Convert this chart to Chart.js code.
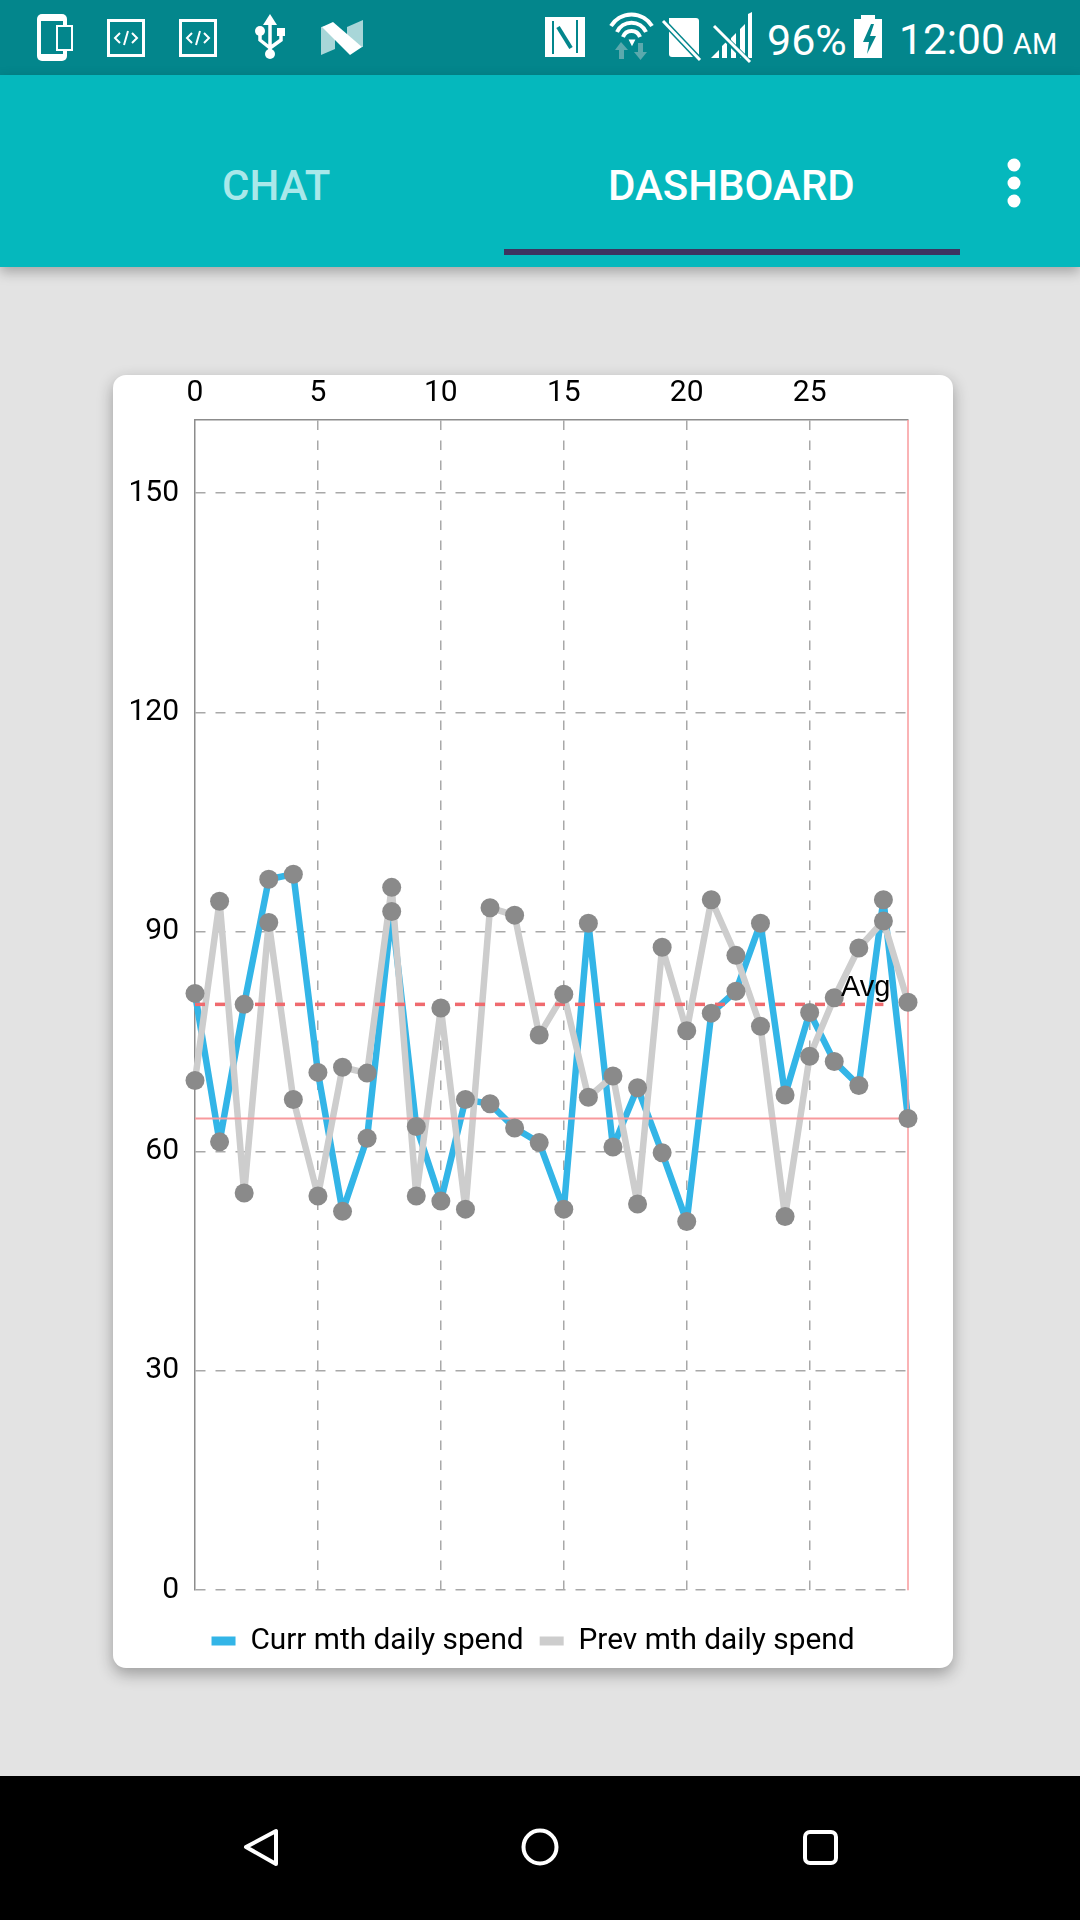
<!DOCTYPE html>
<html>
<head>
<meta charset="utf-8">
<title>Dashboard</title>
<script src="https://cdn.jsdelivr.net/npm/chart.js@4/dist/chart.umd.js"></script>
<style>
    html, body { margin: 0; padding: 0; background: #e3e3e3; }
    body { width: 1080px; height: 1920px; position: relative; overflow: hidden; font-family: Roboto, sans-serif; }
    .abs { position: absolute; white-space: nowrap; line-height: 1; }
    #toolbar { position: absolute; left: 0; top: 75px; width: 1080px; height: 192px; background: #05b8bd; box-shadow: 0 5px 12px rgba(0,0,0,.28); }
    #statusbar { position: absolute; left: 0; top: 0; width: 1080px; height: 75px; background: #03868c; }
    #underline { position: absolute; left: 504px; top: 249px; width: 456px; height: 6px; background: #3d3460; }
    #card { position: absolute; left: 113px; top: 375px; width: 840px; height: 1293px; background: #fff; border-radius: 13px; box-shadow: 0 6px 16px rgba(0,0,0,.32); }
    #myChart { position: absolute; left: 113px; top: 375px; }
    #navbar { position: absolute; left: 0; top: 1776px; width: 1080px; height: 144px; background: #000; }
    svg { position: absolute; left: 0; top: 0; }
</style>
</head>
<body>
<div id="statusbar"></div>
<div id="toolbar"></div>
<div id="underline"></div>
<div class="abs" style="left:222px;top:165px;font-size:42px;font-weight:500;color:#a9e8ea;">CHAT</div>
<div class="abs" style="left:608px;top:165px;font-size:42px;font-weight:500;color:#fff;">DASHBOARD</div>
<div class="abs" style="left:767px;top:19px;font-size:43px;color:#fff;">96%</div>
<div class="abs" style="left:899px;top:19px;font-size:42.5px;color:#fff;">12:00</div>
<div class="abs" style="left:1013px;top:30px;font-size:29px;color:#fff;">AM</div>

<svg width="1080" height="270" fill="none">
    <!-- phone -->
    <rect x="37" y="14" width="30" height="47" rx="5" fill="#fff"/>
    <rect x="41" y="21" width="22" height="33" fill="#03868c"/>
    <rect x="57" y="26" width="15" height="24" fill="#03868c" stroke="#fff" stroke-width="2"/>
    <!-- code boxes -->
    <rect x="108.5" y="20.5" width="35" height="35" stroke="#fff" stroke-width="3"/>
    <path d="M120 33l-5 5 5 5M132 33l5 5-5 5M128 31l-4 14" stroke="#fff" stroke-width="2"/>
    <rect x="180.5" y="20.5" width="35" height="35" stroke="#fff" stroke-width="3"/>
    <path d="M192 33l-5 5 5 5M204 33l5 5-5 5M200 31l-4 14" stroke="#fff" stroke-width="2"/>
    <!-- usb -->
    <path d="M270 22v30M270 48l-10-8v-9M270 48l11-8v-6" stroke="#fff" stroke-width="3.5"/>
    <path d="M270 14l7 11h-14z" fill="#fff"/>
    <circle cx="270" cy="54" r="5" fill="#fff"/>
    <circle cx="260" cy="31" r="5" fill="#fff"/>
    <rect x="277" y="28" width="8" height="8" fill="#fff"/>
    <!-- n logo -->
    <path d="M321 27l14 -2 0 24-14 6z" fill="#a8d6d8"/>
    <path d="M347 27l16-7 0 27-16 1z" fill="#a8d6d8"/>
    <path d="M322 27l11-5 29 25-12 8z" fill="#fff"/>
    <!-- nfc -->
    <rect x="545" y="17" width="40" height="40" fill="#fff"/>
    <path d="M553 21v33M577 20v33" stroke="#03868c" stroke-width="2"/>
    <path d="M558 27l13 21" stroke="#03868c" stroke-width="4"/>
    <!-- wifi -->
    <path d="M611 26a24 24 0 0 1 41 0M617 32a16 16 0 0 1 29 0M623 37a9 9 0 0 1 17 0" stroke="#fff" stroke-width="4"/>
    <path d="M631 41h2l-1 2z" stroke="#fff" stroke-width="3"/>
    <path d="M621 42l7 8h-4v9h-5v-9h-4z" fill="#5ba9ad"/>
    <path d="M638 43h5v9h4l-6.5 8-6.5-8h4z" fill="#5ba9ad"/>
    <!-- no sim -->
    <path d="M669 18h27a3 3 0 0 1 3 3v33a3 3 0 0 1-3 3h-24a3 3 0 0 1-3-3z" fill="#fff"/>
    <path d="M663 21l36 38" stroke="#03868c" stroke-width="6"/>
    <path d="M663 21l37 39" stroke="#fff" stroke-width="3"/>
    <!-- signal -->
    <path d="M711 58l8-8v8zM722 58v-12l5-5v17zM731 58v-20l5-5v25zM740 58v-29l5-5v34zM748 58v-44l4-2v46z" fill="#fff"/>
    <path d="M714 27l35 35" stroke="#03868c" stroke-width="6"/>
    <path d="M714 26l36 36" stroke="#fff" stroke-width="3"/>
    <!-- battery -->
    <path d="M861 15h14v4h7v39h-28v-39h7z" fill="#fff"/>
    <path d="M871 24l-8 18h6l-2 12 9-18h-6l4-12z" fill="#03868c"/>
    <!-- menu -->
    <ellipse cx="1014" cy="165" rx="6.5" ry="6.5" fill="#fff"/>
    <ellipse cx="1014" cy="183" rx="6.5" ry="6.5" fill="#fff"/>
    <ellipse cx="1014" cy="201" rx="6.5" ry="6.5" fill="#fff"/>
</svg>

<div id="card"></div>
<canvas id="myChart" width="840" height="1291"></canvas>

<div id="navbar"></div>
<svg width="1080" height="1920" style="pointer-events:none" fill="none" stroke="#fff" stroke-width="4">
    <path d="M276 1831v33l-30-17z" stroke-linejoin="round"/>
    <circle cx="540" cy="1847" r="16.5"/>
    <rect x="805" y="1832" width="31" height="31" rx="5"/>
</svg>

<script>
// dias del eje x
var dias = [0,1,2,3,4,5,6,7,8,9,10,11,12,13,14,15,16,17,18,19,20,21,22,23,24,25,26,27,28,29];
var currMes = [81.6,61.3,80.1,97.2,97.9,70.8,51.8,61.8,92.8,63.4,53.2,67.1,66.5,63.2,61.2,52.1,91.2,60.6,68.7,59.8,50.4,78.9,81.9,91.2,67.7,79.0,72.3,69.0,94.4,64.5];
var prevMes = [69.7,94.2,54.3,91.3,67.1,53.9,71.5,70.7,96.1,53.9,79.6,52.1,93.3,92.3,75.9,81.5,67.4,70.3,52.8,87.9,76.5,94.4,86.8,77.1,51.1,73.0,81.0,87.8,91.5,80.4];
var etiquetaCurr = "Curr mth daily spend";
var etiquetaPrev = "Prev mth daily spend";
var promedio = 80.1;
var promedioDiaFin = 28;
var marcaDia = 29;
var marcaValor = 64.5;
var yMax = 160;
var xPaso = 5;
var yPaso = 30;

function puntos(valores){
    var salida = [];
    for (var i = 0; i < dias.length; i++){
        salida.push({x: dias[i], y: valores[i]});
    }
    return salida;
}

// texto "Avg" sobre la linea de promedio
var etiquetaAvg = {
    id: "etiquetaAvg",
    afterDatasetsDraw: function(chart){
        var ctx = chart.ctx;
        ctx.save();
        ctx.font = "29px 'Liberation Sans'";
        ctx.fillStyle = "#000";
        ctx.textAlign = "right";
        ctx.textBaseline = "alphabetic";
        ctx.fillText("Avg", chart.scales.x.getPixelForValue(promedioDiaFin) + 7, chart.scales.y.getPixelForValue(promedio) - 8);
        ctx.restore();
    }
};

function lineaDatos(etiqueta, datos, color, ancho, orden, dash){
    return {
        label: etiqueta,
        data: datos,
        borderColor: color,
        backgroundColor: color,
        borderWidth: ancho,
        borderDash: dash || [],
        borderJoinStyle: "round",
        pointRadius: 0,
        tension: 0,
        clip: false,
        order: orden
    };
}
function puntosDatos(datos, orden){
    return {
        label: "",
        data: datos,
        showLine: false,
        pointRadius: 9.5,
        pointBorderWidth: 0,
        pointBackgroundColor: "#8a8a8a",
        clip: false,
        order: orden
    };
}

var ctx = document.getElementById("myChart");
var myChart = new Chart(ctx, {
    type: "line",
    data: {
        datasets: [
            lineaDatos(etiquetaCurr, puntos(currMes), "#33b5e7", 6.5, 6),
            lineaDatos(etiquetaPrev, puntos(prevMes), "#cdcdcd", 6.5, 5),
            lineaDatos("avg", [{x: 0, y: promedio}, {x: promedioDiaFin, y: promedio}], "#ef6a6e", 3.5, 4, [10, 10]),
            lineaDatos("h", [{x: 0, y: marcaValor}, {x: marcaDia, y: marcaValor}], "#f89a9d", 2, 3),
            lineaDatos("v", [{x: marcaDia, y: 0}, {x: marcaDia, y: yMax}], "#f89a9d", 1.5, 3),
            puntosDatos(puntos(prevMes), 2),
            puntosDatos(puntos(currMes), 1)
        ]
    },
    plugins: [etiquetaAvg],
    options: {
        responsive: false,
        devicePixelRatio: 1,
        animation: false,
        events: [],
        layout: { padding: 0 },
        plugins: {
            tooltip: { enabled: false },
            legend: {
                position: "bottom",
                labels: {
                    boxWidth: 24,
                    boxHeight: 9,
                    padding: 16,
                    color: "#000",
                    font: { family: "Roboto", size: 29.8 },
                    // sin borde en la cajita de la leyenda
                    generateLabels: function(chart){
                        var items = Chart.defaults.plugins.legend.labels.generateLabels(chart);
                        for (var i = 0; i < items.length; i++){
                            items[i].lineWidth = 0;
                        }
                        return items;
                    },
                    filter: function(item){ return item.datasetIndex < 2; },
                    sort: function(a, b){ return a.datasetIndex - b.datasetIndex; }
                }
            }
        },
        scales: {
            x: {
                type: "linear",
                position: "top",
                min: 0,
                max: marcaDia,
                afterFit: function(s){ s.height = 45; },
                ticks: { stepSize: xPaso, includeBounds: false, color: "#000", padding: 9, maxRotation: 0, font: { family: "Roboto", size: 30 } },
                grid: {
                    color: function(c){ return c.tick && c.tick.value === 0 ? "transparent" : "#a8a8a8"; },
                    lineWidth: 1.5,
                    drawTicks: false
                },
                border: { color: "#8c8c8c", width: 1.5, dash: [9.5, 10.5] }
            },
            y: {
                type: "linear",
                position: "left",
                min: 0,
                max: yMax,
                afterFit: function(s){ s.width = 82; },
                ticks: { stepSize: yPaso, includeBounds: false, color: "#000", padding: 16, font: { family: "Roboto", size: 30 } },
                grid: { color: "#a8a8a8", lineWidth: 1.5, drawTicks: false },
                border: { color: "#8c8c8c", width: 1.5, dash: [10, 10] }
            },
            // ejes vacios, solo guardan espacio para centrar la leyenda
            relleno_x: {
                axis: "x",
                type: "linear",
                position: "bottom",
                afterFit: function(s){ s.height = 20; },
                ticks: { display: false },
                grid: { display: false },
                border: { display: false }
            },
            relleno_y: {
                axis: "y",
                type: "linear",
                position: "right",
                afterFit: function(s){ s.width = 45; },
                ticks: { display: false },
                grid: { display: false },
                border: { display: false }
            }
        }
    }
});
</script>
</body>
</html>
